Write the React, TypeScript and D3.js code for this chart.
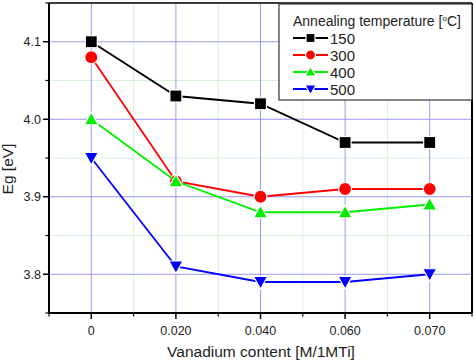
import * as d3 from "d3";
import React from "react";

const categories = ["0", "0.020", "0.040", "0.060", "0.070"];
const yTicks = [3.8, 3.9, 4.0, 4.1];
const yMinor = [3.75, 3.85, 3.95, 4.05, 4.15];
const t150 = [4.10, 4.03, 4.02, 3.97, 3.97];
const t300 = [4.08, 3.92, 3.90, 3.91, 3.91];
const t400 = [4.00, 3.92, 3.88, 3.88, 3.89];
const t500 = [3.95, 3.81, 3.79, 3.79, 3.80];

const series = [
  { name: "150", values: t150, color: "#000000", shape: "square" },
  { name: "300", values: t300, color: "#ff0000", shape: "circle" },
  { name: "400", values: t400, color: "#00ee00", shape: "up" },
  { name: "500", values: t500, color: "#0000ff", shape: "down" },
];

const W = 474, H = 363;
const left = 49, right = 472, top = 3, bottom = 313;
const font = "Liberation Sans, Arial, sans-serif";

function Marker({ shape, x, y, color, size = 6 }: any) {
  const s = size;
  const common = { fill: color, stroke: "#fff", strokeWidth: 1.2 };
  if (shape === "square") return <rect x={x - s} y={y - s} width={2 * s} height={2 * s} {...common} />;
  if (shape === "circle") return <circle cx={x} cy={y} r={s + 0.5} {...common} />;
  if (shape === "up") return <path d={`M${x},${y - s - 1}L${x + s + 1},${y + s - 0.5}L${x - s - 1},${y + s - 0.5}Z`} {...common} />;
  return <path d={`M${x},${y + s + 1}L${x + s + 1},${y - s + 0.5}L${x - s - 1},${y - s + 0.5}Z`} {...common} />;
}

export default function App() {
  const x = d3.scaleLinear().domain([-0.5, 4.5]).range([left, right]);
  const y = d3.scaleLinear().domain([3.75, 4.15]).range([bottom, top]);
  const line = d3.line<number>().x((_, i) => x(i)).y((d) => y(d));
  const idx = categories.map((_, i) => i);
  const minorX = d3.range(-0.5, 4.51, 1);

  return (
    <svg width={W} height={H} style={{ position: "absolute", left: 0, top: 0, fontFamily: font }}>
      <rect width={W} height={H} fill="#fff" />
      {/* minor grid */}
      {minorX.map((v) => (
        <line key={"mx" + v} x1={x(v)} x2={x(v)} y1={top} y2={bottom} stroke="#d8f0d8" strokeWidth={1} />
      ))}
      {yMinor.map((v) => (
        <line key={"my" + v} x1={left} x2={right} y1={y(v)} y2={y(v)} stroke="#d8f0d8" strokeWidth={1} />
      ))}
      {/* major grid */}
      {idx.map((i) => (
        <line key={"gx" + i} x1={x(i)} x2={x(i)} y1={top} y2={bottom} stroke="#9999ee" strokeWidth={1} />
      ))}
      {yTicks.map((v) => (
        <line key={"gy" + v} x1={left} x2={right} y1={y(v)} y2={y(v)} stroke="#9999ee" strokeWidth={1} />
      ))}
      {/* series */}
      {series.map((s) => (
        <g key={s.name}>
          <path d={line(s.values) || ""} fill="none" stroke={s.color} strokeWidth={1.8} />
          {s.values.map((v, i) => (
            <Marker key={i} shape={s.shape} x={x(i)} y={y(v)} color={s.color} />
          ))}
        </g>
      ))}
      {/* frame */}
      <line x1={left} x2={right} y1={top} y2={top} stroke="#000" strokeWidth={1.5} />
      <line x1={right} x2={right} y1={top} y2={bottom} stroke="#000" strokeWidth={2} />
      <line x1={left} x2={left} y1={top} y2={bottom + 1} stroke="#000" strokeWidth={2} />
      <line x1={left - 1} x2={right} y1={bottom} y2={bottom} stroke="#000" strokeWidth={2} />
      {/* x ticks */}
      {idx.map((i) => (
        <g key={"xt" + i}>
          <line x1={x(i)} x2={x(i)} y1={bottom} y2={bottom + 6} stroke="#000" strokeWidth={1.5} />
          <text x={x(i)} y={bottom + 22} textAnchor="middle" fontSize={12.5} fill="#222">{categories[i]}</text>
        </g>
      ))}
      {minorX.map((v) => (
        <line key={"xm" + v} x1={x(v)} x2={x(v)} y1={bottom} y2={bottom + 3.5} stroke="#000" strokeWidth={1.2} />
      ))}
      {/* y ticks */}
      {yTicks.map((v) => (
        <g key={"yt" + v}>
          <line x1={left - 6} x2={left} y1={y(v)} y2={y(v)} stroke="#000" strokeWidth={1.5} />
          <text x={left - 8} y={y(v) + 4.5} textAnchor="end" fontSize={12.5} fill="#222">{v.toFixed(1)}</text>
        </g>
      ))}
      {yMinor.map((v) => (
        <line key={"ym" + v} x1={left - 3.5} x2={left} y1={y(v)} y2={y(v)} stroke="#000" strokeWidth={1.2} />
      ))}
      {/* axis labels */}
      <text x={261} y={357} textAnchor="middle" fontSize={15.5} fill="#222">Vanadium content [M/1MTi]</text>
      <text transform={`translate(13,${169}) rotate(-90)`} textAnchor="middle" fontSize={15.5} fill="#222">Eg [eV]</text>
      {/* legend */}
      <g>
        <rect x={279} y={4} width={193} height={96} fill="#fff" stroke="#333" strokeWidth={1.2} />
        <text x={293} y={26} fontSize={14} fill="#222">
          Annealing temperature [<tspan fontSize={8} dy={-5}>o</tspan><tspan dy={5}>C]</tspan>
        </text>
        {series.map((s, i) => {
          const ly = 38 + i * 17;
          return (
            <g key={"lg" + s.name}>
              <line x1={293} x2={328} y1={ly} y2={ly} stroke={s.color} strokeWidth={1.8} />
              <Marker shape={s.shape} x={310.5} y={ly} color={s.color} size={4.5} />
              <text x={330} y={ly + 5.5} fontSize={15} fill="#222">{s.name}</text>
            </g>
          );
        })}
      </g>
    </svg>
  );
}
